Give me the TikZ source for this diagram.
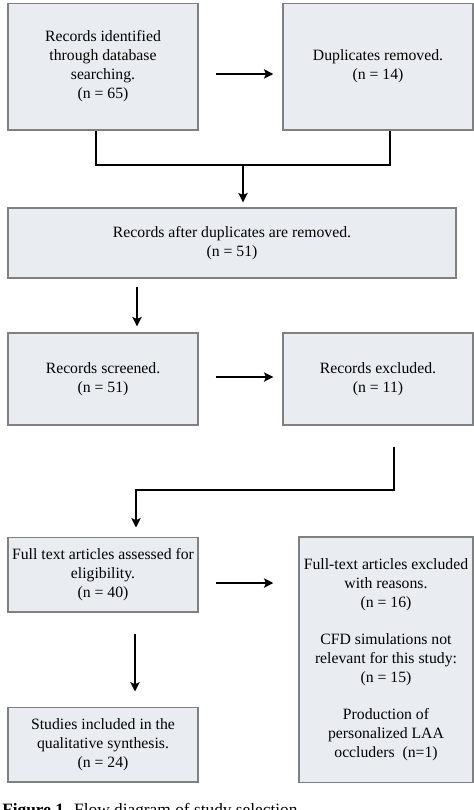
\documentclass[tikz,border=0pt]{standalone}
\usepackage{fontspec}
\setmainfont{Liberation Serif}
\usetikzlibrary{arrows.meta}
\definecolor{boxfill}{RGB}{233,237,242}
\definecolor{boxline}{RGB}{128,128,128}

\tikzset{
    stagebox/.style={draw=boxline, line width=1pt, fill=boxfill, align=center,
        inner sep=2pt, font=\fontsize{11.8}{14.3}\selectfont},
    flowline/.style={line width=1.5pt},
    flowarrow/.style={line width=1.5pt, -{Stealth[length=7pt,width=7pt,inset=1.5pt]}}
}

\begin{document}
\begin{tikzpicture}[x=0.75pt, y=-0.75pt]
    \useasboundingbox (0,0) rectangle (474,810);

    % identification
    \node[stagebox, minimum width=142.5pt, minimum height=95pt] (ident) at (103,66.5) {
        Records identified\\ through database\\ searching.\\ (n = 65)
    };
    \node[stagebox, minimum width=142.5pt, minimum height=95pt] (dupl) at (378,66.5) {
        Duplicates removed.\\ (n = 14)
    };

    % after duplicates
    \node[stagebox, minimum width=336pt, minimum height=52.5pt] (afterdupl) at (232,243) {
        Records after duplicates are removed.\\ (n = 51)
    };

    % screening
    \node[stagebox, minimum width=142.5pt, minimum height=69pt] (screened) at (103,379) {
        Records screened.\\ (n = 51)
    };
    \node[stagebox, minimum width=142.5pt, minimum height=69pt] (excluded) at (378,379) {
        Records excluded.\\ (n = 11)
    };

    % eligibility
    \node[stagebox, minimum width=142.5pt, minimum height=56pt] (fulltext) at (103,574.5) {
        Full text articles assessed for\\ eligibility.\\ (n = 40)
    };
    \node[stagebox, minimum width=130.5pt, minimum height=184pt, inner sep=1pt] (reasons) at (386,659.5) {
        Full-text articles excluded\\ with reasons.\\ (n = 16)\\[13.5pt]
        CFD simulations not\\ relevant for this study:\\ (n = 15)\\[13.5pt]
        Production of\\ personalized LAA\\ occluders~ (n=1)
    };

    % included
    \node[stagebox, minimum width=142.5pt, minimum height=56pt] (included) at (103,744.5) {
        Studies included in the\\ qualitative synthesis.\\ (n = 24)
    };

    % connectors
    \coordinate (merge) at (243,165);
    \draw[flowarrow, shorten <=12.75pt, shorten >=6.75pt]
        ([yshift=-5.6pt]ident.east) -- ([yshift=-5.6pt]ident.east -| dupl.west);
    \draw[flowline] ([xshift=-5.25pt]ident.south) |- (merge) -| ([xshift=9pt]dupl.south);
    \draw[flowarrow, shorten >=3.75pt] (merge) -- (merge |- afterdupl.north);
    \draw[flowarrow, shorten <=6pt, shorten >=4.5pt]
        ([xshift=25.5pt]screened.north |- afterdupl.south) -- ([xshift=25.5pt]screened.north);
    \draw[flowarrow, shorten <=12.75pt, shorten >=6.75pt]
        ([yshift=1.5pt]screened.east) -- ([yshift=1.5pt]screened.east -| excluded.west);
    \draw[flowarrow, shorten <=15.75pt, shorten >=6.75pt]
        ([xshift=12pt]excluded.south) |- ([xshift=24.75pt,yshift=35.25pt]fulltext.north)
        -- ([xshift=24.75pt]fulltext.north);
    \draw[flowarrow, shorten <=12.75pt, shorten >=18.75pt]
        ([yshift=-6.4pt]fulltext.east) -- ([yshift=-6.4pt]fulltext.east -| reasons.west);
    \draw[flowarrow, shorten <=15.75pt, shorten >=11.25pt]
        ([xshift=24pt]fulltext.south) -- ([xshift=24pt]included.north);

    % caption (cut off at the lower edge)
    \node[anchor=base west, inner sep=0pt, font=\fontsize{13}{15}\selectfont] (caption) at (2,815)
        {\textbf{Figure 1.} Flow diagram of study selection.};
\end{tikzpicture}
\end{document}
